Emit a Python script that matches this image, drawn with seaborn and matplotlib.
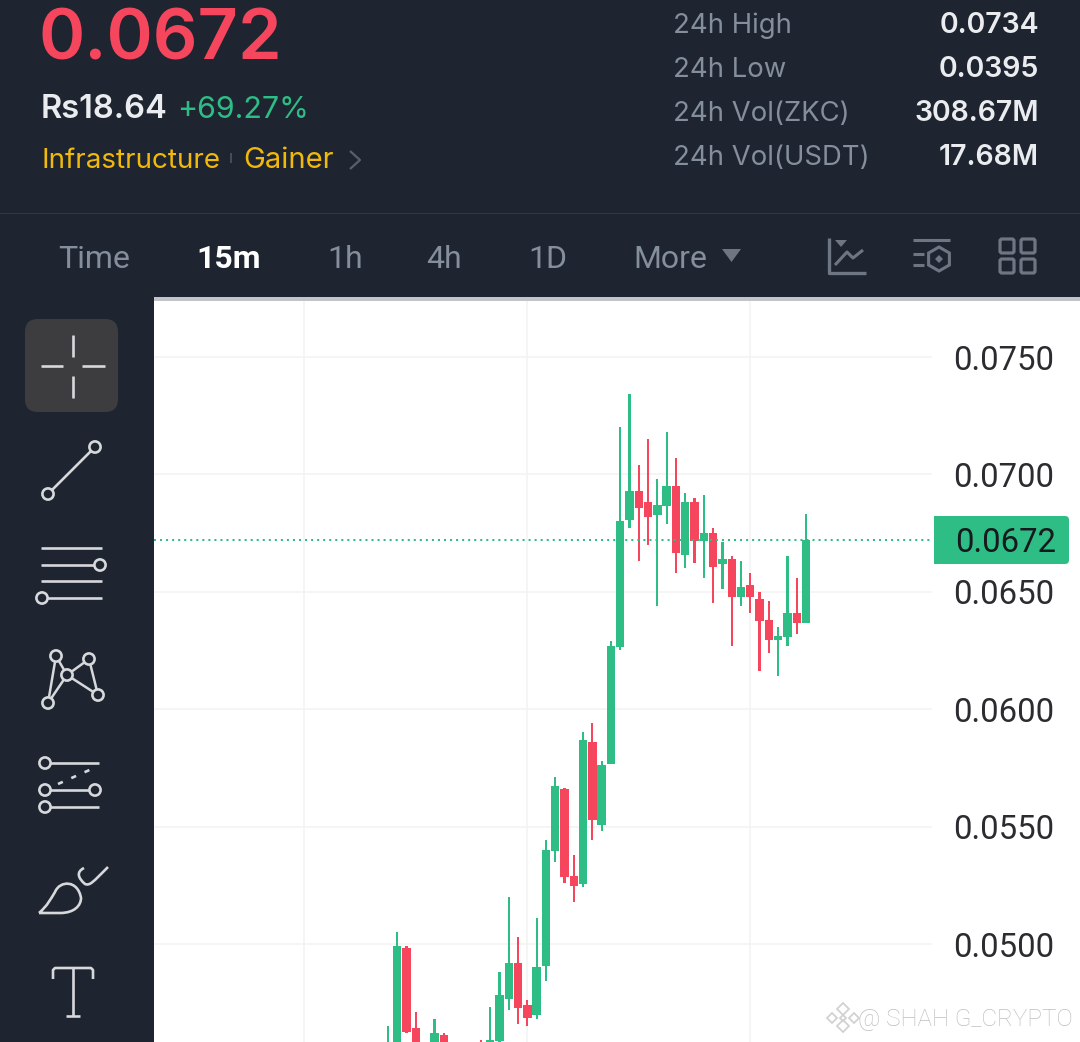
import numpy as np
import pandas as pd
import matplotlib
matplotlib.use("Agg")
import matplotlib.pyplot as plt
import seaborn as sns
from matplotlib.patches import Circle, FancyBboxPatch, Polygon, Rectangle, PathPatch
from matplotlib.path import Path

# 15m candles (the first few sit below the visible area)
highs = [.04651, .05051, .04991, .04710, .04560, .04681, .04621, .04560, .04560, .04570,
         .04591, .04732, .04881, .05200, .05030, .04761, .05111, .05443, .05711, .05664,
         .05379, .05903, .05941, .05779, .06290, .07202, .07342, .07040, .07151, .06980,
         .07181, .07070, .06921, .06899, .06912, .06772, .06712, .06652, .06631, .06580,
         .06499, .06461, .06350, .06652, .06559, .06831]
opens = [.04520, .04560, .04983, .04642, .04550, .04560, .04612, .04520, .04550, .04530,
         .04578, .04550, .04587, .04766, .04919, .04740, .04698, .04906, .05396, .05660,
         .05290, .05255, .05860, .05507, .05767, .06265, .06806, .06929, .06882, .06827,
         .06865, .06951, .06657, .06882, .06716, .06750, .06618, .06640, .06478, .06529,
         .06469, .06380, .06295, .06307, .06410, .06367]
closes = [.04570, .04991, .04625, .04570, .04520, .04621, .04560, .04550, .04530, .04560,
          .04540, .04591, .04783, .04919, .04727, .04685, .04902, .05400, .05673, .05285,
          .05247, .05869, .05528, .05762, .06269, .06802, .06929, .06857, .06819, .06870,
          .06951, .06665, .06882, .06716, .06750, .06606, .06640, .06478, .06520, .06478,
          .06376, .06295, .06312, .06410, .06367, .06721]
lows = [.04500, .04540, .04621, .04550, .04500, .04540, .04540, .04500, .04510, .04520,
        .04520, .04530, .04570, .04719, .04659, .04651, .04681, .04842, .05349, .05260,
        .05179, .05243, .05443, .05481, .05767, .06252, .06772, .06631, .06699, .06440,
        .06789, .06580, .06601, .06623, .06559, .06452, .06512, .06269, .06440, .06410,
        .06163, .06239, .06141, .06269, .06320, .06367]

price_ticks = [0.0500, 0.0550, 0.0600, 0.0650, 0.0700, 0.0750]
time_grid = [-9, 15, 39]
last_price = 0.0672

stat_names = ["24h High", "24h Low", "24h Vol(ZKC)", "24h Vol(USDT)"]
stat_values = ["0.0734", "0.0395", "308.67M", "17.68M"]
tab_names = ["Time", "15m", "1h", "4h", "1D", "More"]

GREEN = "#2EBD85"
RED = "#F6465D"
DARK = "#1E2530"
GREY = "#848E9C"
ICON = "#D6D8DB"
ICON2 = "#6E7683"
GOLD = "#F0B90B"
W, H = 1080, 1042

sns.set_theme(style="white")
plt.rcParams["font.family"] = ["Inter", "DejaVu Sans"]

df = pd.DataFrame({"idx": np.arange(len(highs)), "high": highs, "open": opens,
                   "close": closes, "low": lows})
df["bottom"] = df[["open", "close"]].min(axis=1)
df["body"] = (df["close"] - df["open"]).abs()
df["wick"] = df["high"] - df["low"]
df["up"] = df["close"] >= df["open"]

fig = plt.figure(figsize=(W / 100, H / 100), dpi=100, facecolor="white")

# chart area runs from x=154 to x=932 and y=300 to the bottom edge
ax = fig.add_axes([154 / W, 0, (932 - 154) / W, (H - 300) / H])
for is_up, color in [(True, GREEN), (False, RED)]:
    part = df[df["up"] == is_up]
    sns.barplot(data=part, x="idx", y="wick", bottom=part["low"].values, native_scale=True,
                color=color, saturation=1, width=0.24, linewidth=0, errorbar=None, ax=ax)
    sns.barplot(data=part, x="idx", y="body", bottom=part["bottom"].values, native_scale=True,
                color=color, saturation=1, width=0.9, linewidth=0, errorbar=None, ax=ax)

px_per_candle = 418 / 45
ax.set_xlim((154 - 388) / px_per_candle, (932 - 388) / px_per_candle)
ax.set_ylim(0.075 - 685 / 23480, 0.075 + 57 / 23480)
ax.set_xticks(time_grid)
ax.set_xticklabels([])
ax.set_yticks(price_ticks)
ax.set_yticklabels([f"{p:.4f}" for p in price_ticks], fontfamily="Roboto", fontsize=23.7,
                   color="#2A2C30")
ax.yaxis.tick_right()
ax.tick_params(axis="both", length=0)
ax.tick_params(axis="y", pad=15.5)
ax.set_xlabel("")
ax.set_ylabel("")
ax.grid(True, color="#F3F3F4", linewidth=1.1)
ax.set_axisbelow(True)
sns.despine(ax=ax, left=True, bottom=True, right=True, top=True)
ax.axhline(last_price, color=GREEN, linewidth=1.45, linestyle=(0, (1.0, 2.0)), zorder=5)

# everything around the chart goes on a pixel-coordinate layer
ui = fig.add_axes([0, 0, 1, 1], zorder=3)
ui.set_xlim(0, W)
ui.set_ylim(H, 0)
ui.axis("off")


def line(points, color=ICON, lw=1.9, **kw):
    xs, ys = zip(*points)
    ui.plot(xs, ys, color=color, linewidth=lw, solid_capstyle="butt", **kw)


def ring(x, y, r=5.6, color=ICON):
    ui.add_patch(Circle((x, y), r, facecolor=DARK, edgecolor=color, linewidth=1.9, zorder=4))


def curve(points, color=ICON, lw=1.9):
    # points: start, then triples of cubic bezier controls
    codes = [Path.MOVETO] + [Path.CURVE4] * (len(points) - 1)
    ui.add_patch(PathPatch(Path(points, codes), fill=False, edgecolor=color, linewidth=lw))


ui.add_patch(Rectangle((0, 0), W, 297, color=DARK, lw=0))
ui.add_patch(Rectangle((0, 297), 154, H - 297, color=DARK, lw=0))
ui.add_patch(Rectangle((154, 297), W - 154, 4, color="#C2C5C8", lw=0))
ui.add_patch(Rectangle((0, 213), W, 1, color="#323945", lw=0))

# header
ui.text(39, 60, "0.0672", color=RED, fontsize=50.5, fontweight="semibold", va="baseline")
ui.text(41, 118, "Rs18.64", color="#EAECEF", fontsize=23.5, fontweight="semibold", va="baseline")
ui.text(177, 118, "+69.27%", color=GREEN, fontsize=21.9, va="baseline")
ui.text(42, 168, "Infrastructure", color=GOLD, fontsize=20, va="baseline")
ui.text(243, 168, "Gainer", color=GOLD, fontsize=21, va="baseline")
ui.add_patch(Rectangle((230, 153), 2, 10, color="#474D57", lw=0))
line([(350, 151), (360, 160), (350, 169)], color="#5A606B", lw=1.6)

for i, (name, value) in enumerate(zip(stat_names, stat_values)):
    y = 33 + 44 * i
    ui.text(673, y, name, color=GREY, fontsize=19.8, va="baseline")
    ui.text(1039, y, value, color="#EAECEF", fontsize=20.5, fontweight="semibold", va="baseline", ha="right")

# interval tabs
tab_x = [58, 196, 327, 426, 528, 633]
for name, x in zip(tab_names, tab_x):
    active = name == "15m"
    ui.text(x, 268, name, color="white" if active else GREY, fontsize=23, family="Roboto",
            fontweight="bold" if active else "normal", va="baseline")
ui.add_patch(Polygon([(722, 249), (741, 249), (731.5, 262)], color=ICON2, lw=0))

# top right icons
line([(829, 238), (829, 273), (866, 273)], color=ICON2, lw=2.4)
ui.add_patch(Polygon([(835, 240), (847, 240), (841, 247)], color=ICON2, lw=0))
line([(835, 265), (847, 252), (853, 258), (863, 250)], color=ICON2, lw=2.2)
line([(913, 240), (950, 240)], color=ICON2, lw=2.2)
line([(913, 254), (924, 254)], color=ICON2, lw=2.2)
line([(913, 265), (924, 265)], color=ICON2, lw=2.2)
hex_angles = np.deg2rad(np.arange(30, 390, 60))
ui.add_patch(Polygon(np.c_[939 + 12 * np.cos(hex_angles), 259 + 12 * np.sin(hex_angles)],
                     fill=False, edgecolor=ICON2, linewidth=2.2))
ui.add_patch(Polygon([(939, 255), (943, 259), (939, 263), (935, 259)], color=ICON2, lw=0))
for x in (1000, 1021):
    for y in (239, 259):
        ui.add_patch(FancyBboxPatch((x, y), 14, 14, boxstyle="round,pad=0,rounding_size=2",
                                    fill=False, edgecolor=ICON2, linewidth=2.3))

# left toolbar
ui.add_patch(FancyBboxPatch((25, 319), 93, 93, boxstyle="round,pad=0,rounding_size=13",
                            color="#3D3D3F", lw=0))
line([(73, 335), (73, 357)])
line([(73, 376), (73, 398)])
line([(41, 366), (63, 366)])
line([(82, 366), (105, 366)])

line([(48, 494), (95, 447)])
ring(95, 447)
ring(48, 494)

line([(41, 548), (102, 548)])
line([(41, 565), (100, 565)])
line([(41, 581), (102, 581)])
line([(42, 598), (102, 598)])
ring(100, 565)
ring(42, 598)

line([(56, 656), (48, 703), (67, 675), (89, 659), (98, 695), (67, 675), (56, 656)], lw=1.8)
for x, y in [(56, 656), (89, 659), (67, 675), (48, 703), (98, 695)]:
    ring(x, y)

line([(45, 763), (99, 763)])
line([(45, 790), (95, 790)])
line([(45, 807), (99, 807)])
ui.plot([58, 94], [784, 768], color=ICON, linewidth=1.9, linestyle=(0, (2, 3.5)))
for x, y in [(45, 763), (45, 790), (95, 790), (45, 807)]:
    ring(x, y)

curve([(39, 913), (48, 905), (50, 900), (55, 892), (60, 880), (78, 880), (81, 898),
       (81, 905), (75, 913), (60, 913), (50, 913), (45, 913), (39, 913)])
curve([(84, 868), (76, 872), (78, 878), (85, 884), (90, 886), (93, 882), (108, 867)])

line([(53, 979), (53, 970), (55, 968), (91, 968), (93, 970), (93, 979)])
line([(73, 968), (73, 1016)])
line([(66, 1016), (80, 1016)])

# last price tag
ui.add_patch(FancyBboxPatch((934, 516), 135, 48, boxstyle="round,pad=0,rounding_size=4",
                            color=GREEN, lw=0))
ui.add_patch(Rectangle((934, 516), 8, 48, color=GREEN, lw=0))
ui.text(955, 552, f"{last_price:.4f}", color="#16191D", fontsize=23.7, family="Roboto",
        va="baseline")

# watermark
for cx, cy, r in [(843, 1009, 6), (832, 1018, 5), (854, 1018, 5), (843, 1026, 6), (843, 1018, 3)]:
    ui.add_patch(Polygon([(cx, cy - r), (cx + r, cy), (cx, cy + r), (cx - r, cy)], fill=False,
                         edgecolor="#D2D2D2", linewidth=1.3))
ui.text(858, 1026, "@ SHAH G_CRYPTO", color="#BFBFBF", fontsize=17.5, family="Roboto",
        fontweight="light", va="baseline")

fig.savefig("out.png", dpi=100)
